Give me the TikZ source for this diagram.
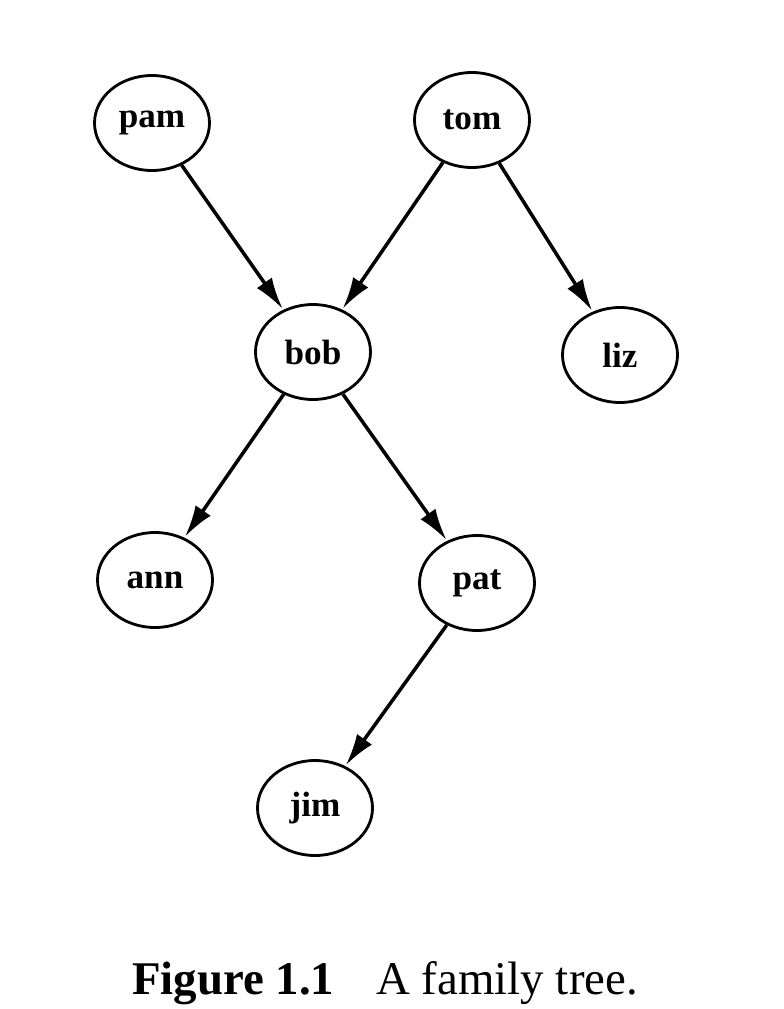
\documentclass[tikz,border=0pt]{standalone}
\usepackage{fontspec}
\setmainfont{Liberation Serif}
\usetikzlibrary{shapes.geometric,arrows.meta}
\begin{document}
\begin{tikzpicture}[x=0.03cm,y=-0.03cm,
  person/.style={ellipse,draw,line width=2.4pt,minimum width=3.45cm,minimum height=2.85cm,inner sep=0pt,font=\fontsize{30}{36}\selectfont\bfseries},
  edge/.style={line width=3pt,-{Latex[length=0.95cm,width=0.55cm]},shorten >=1pt}]
\useasboundingbox (0,0) rectangle (783,1009);
\node[person] (pam) at (152,123) {pam};
\node[person] (tom) at (472,120) {tom};
\node[person] (bob) at (313,352) {bob};
\node[person] (liz) at (620,355) {liz};
\node[person] (ann) at (155,580) {ann};
\node[person] (pat) at (477,583) {pat};
\node[person] (jim) at (315,808) {jim};
\draw[edge] (pam) -- (bob);
\draw[edge] (tom) -- (bob);
\draw[edge] (tom) -- (liz);
\draw[edge] (bob) -- (ann);
\draw[edge] (bob) -- (pat);
\draw[edge] (pat) -- (jim);
\node[font=\fontsize{40}{46}\selectfont] (cap) at (385,983) {\textbf{Figure 1.1}\hspace{0.9em}A family tree.};
\end{tikzpicture}
\end{document}
